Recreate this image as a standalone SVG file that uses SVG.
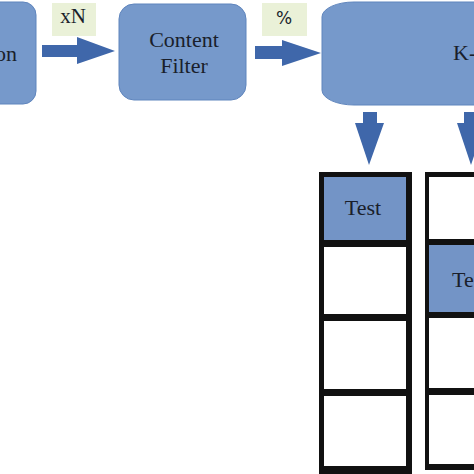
<svg xmlns="http://www.w3.org/2000/svg" width="474" height="474" viewBox="0 0 474 474">
<style>
.node{fill:#7699cb;stroke:#5f85bd;stroke-width:1}
.lbl{fill:#eaf1d8}
.arrow{fill:#3f67aa}
.t{font-family:"Liberation Serif","Times New Roman",serif;font-size:22px;fill:#1a1f2b;text-anchor:middle}
.col{fill:#111}
.cell{fill:#fff}
.cellb{fill:#7394c6}
</style>
<rect width="474" height="474" fill="#fff"/>
<g id="node-left">
<rect class="node" x="-40" y="2" width="76" height="102" rx="13" ry="13"/>
<text class="t" x="17" y="61" text-anchor="end" style="text-anchor:end">on</text>
</g>
<g id="node-content-filter">
<rect class="node" x="119" y="4" width="127" height="96" rx="15" ry="15"/>
<text class="t" x="184" y="47">Content</text>
<text class="t" x="184" y="73">Filter</text>
</g>
<g id="node-k">
<rect class="node" x="322" y="2" width="200" height="103" rx="32" ry="15"/>
<text class="t" x="453" y="60" style="text-anchor:start">K-</text>
</g>
<g id="label-xN">
<rect class="lbl" x="52" y="3" width="44" height="33"/>
<text class="t" x="73" y="23" style="font-size:21px">xN</text>
</g>
<g id="label-pct">
<rect class="lbl" x="262" y="3" width="45" height="33"/>
<text class="t" x="284" y="24" style="font-family:'DejaVu Sans','Liberation Sans',sans-serif;font-size:17px">%</text>
</g>
<g id="connectors">
<polygon class="arrow" points="42,45 77,45 77,37 115,51 77,64 77,57 42,57"/>
<polygon class="arrow" points="255,46 282,46 282,40 321,53 282,66 282,59 255,59"/>
<polygon class="arrow" points="363,112 377,112 377,123 384,123 369,165 355,123 363,123"/>
<polygon class="arrow" points="464,112 478,112 478,123 485,123 471,165 457,123 464,123"/>
</g>
<g id="column-1">
<rect class="col" x="319" y="172" width="93" height="302"/>
<rect class="cellb" x="324" y="177" width="82" height="63"/>
<rect class="cell" x="324" y="247" width="82" height="67"/>
<rect class="cell" x="324" y="321" width="82" height="68"/>
<rect class="cell" x="324" y="396" width="82" height="70"/>
<text class="t" x="363" y="215">Test</text>
</g>
<g id="column-2">
<rect class="col" x="425" y="172" width="60" height="298"/>
<rect class="cell" x="429" y="177" width="60" height="62"/>
<rect class="cellb" x="429" y="245" width="60" height="67"/>
<rect class="cell" x="429" y="318" width="60" height="70"/>
<rect class="cell" x="429" y="395" width="60" height="69"/>
<text class="t" x="452" y="287" style="text-anchor:start">Te</text>
</g>
</svg>
